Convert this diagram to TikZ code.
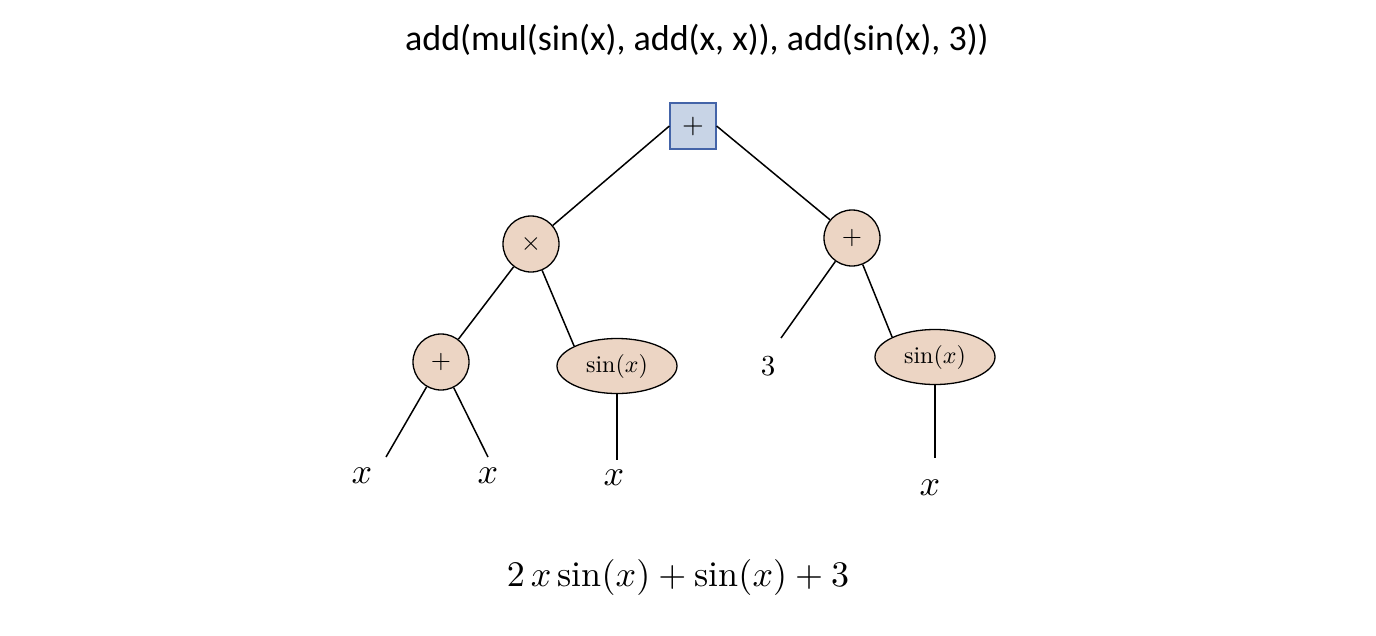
\documentclass[tikz,border=0pt]{standalone}
\usepackage{graphicx}
\usepackage{fontspec}
\newfontfamily\titlefont{Carlito}
\usetikzlibrary{shapes.geometric}
\definecolor{nodefill}{RGB}{236,213,196}
\definecolor{rootfill}{RGB}{200,212,230}
\definecolor{rootdraw}{RGB}{68,100,168}
\newcommand{\sz}[2]{\scalebox{#1}{#2}}
\begin{document}
\begin{tikzpicture}[x=1pt,y=-1pt,
  op/.style={circle,draw,line width=1.3pt,fill=nodefill,minimum size=56pt,inner sep=0pt},
  sinnode/.style={ellipse,draw,line width=1.3pt,fill=nodefill,minimum width=120pt,minimum height=55pt,inner sep=0pt},
  edge/.style={line width=1.5pt}]
\useasboundingbox (0,0) rectangle (1376,635);
\node[font=\titlefont\fontsize{36}{40}\selectfont] (title) at (697,40) {add(mul(sin(x), add(x, x)), add(sin(x), 3))};
\node[draw=rootdraw,line width=1.2pt,fill=rootfill,minimum size=46pt,inner sep=0pt] (root) at (693,126) {\sz{2.8}{$+$}};
\node[op] (mul) at (531,244) {\sz{2.6}{$\times$}};
\node[op] (addr) at (852,238) {\sz{2.6}{$+$}};
\node[op] (addl) at (441,362) {\sz{2.6}{$+$}};
\node[sinnode] (sinl) at (617,366) {\sz{2.4}{$\sin(x)$}};
\node (three) at (768,366) {\sz{2.9}{$3$}};
\node[sinnode] (sinr) at (935,357) {\sz{2.4}{$\sin(x)$}};
\node (x1) at (362,476) {\sz{3.6}{$x$}};
\node (x2) at (488,476) {\sz{3.6}{$x$}};
\node (x3) at (614,478) {\sz{3.6}{$x$}};
\node (x4) at (930,488) {\sz{3.6}{$x$}};
\coordinate (e1) at (386,457);
\coordinate (e2) at (488,457);
\coordinate (e3) at (617,460);
\coordinate (e4) at (781,338);
\coordinate (e5) at (935,458);
\draw[edge] (root.west) -- (mul);
\draw[edge] (root.east) -- (addr);
\draw[edge] (mul) -- (addl);
\draw[edge] (mul) -- (sinl.north west);
\draw[edge] (addr) -- (e4);
\draw[edge] (addr) -- (sinr.north west);
\draw[edge] (addl) -- (e1);
\draw[edge] (addl) -- (e2);
\draw[edge] (sinl) -- (e3);
\draw[edge] (sinr) -- (e5);
\node (formula) at (678,577) {\sz{3.6}{$2\,x\sin(x)+\sin(x)+3$}};
\end{tikzpicture}
\end{document}
